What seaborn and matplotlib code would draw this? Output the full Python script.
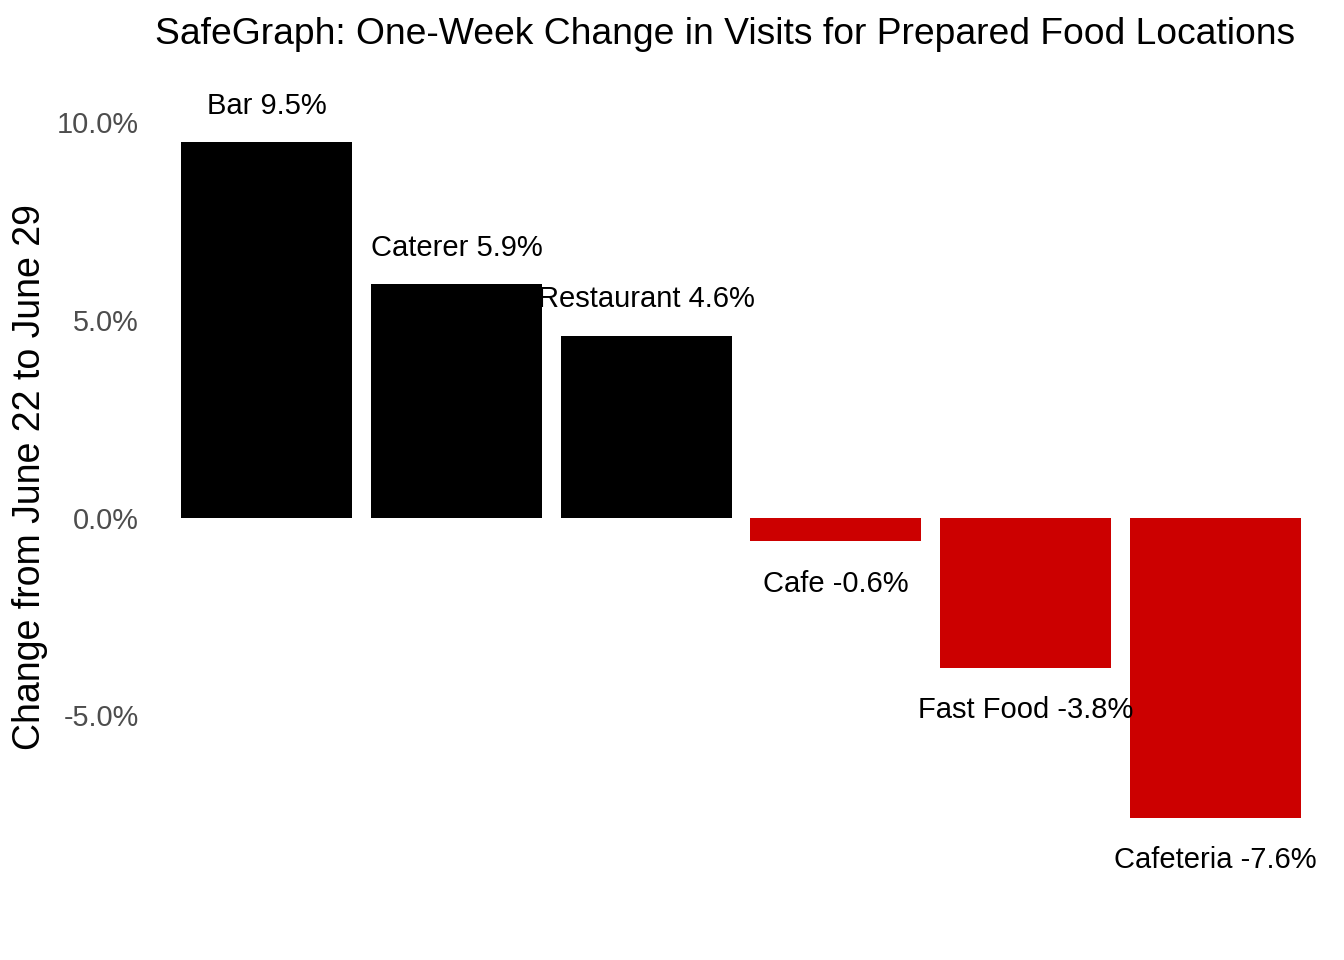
import matplotlib
matplotlib.use("Agg")
import matplotlib.pyplot as plt
import seaborn as sns
import pandas as pd
from matplotlib.ticker import FuncFormatter

categories = ["Bar", "Caterer", "Restaurant", "Cafe", "Fast Food", "Cafeteria"]
values = [9.5, 5.9, 4.6, -0.6, -3.8, -7.6]
yticks = [-5.0, 0.0, 5.0, 10.0]

df = pd.DataFrame({"cat": categories, "val": values})
df["dir"] = ["up" if v > 0 else "down" for v in values]

sns.set_theme(style="white")
plt.rcParams["font.family"] = ["Liberation Sans", "DejaVu Sans"]
plt.rcParams["text.color"] = "black"

fig = plt.figure(figsize=(13.44, 9.6), dpi=100)
ax = fig.add_axes([153 / 1344, 65 / 960, 1176 / 1344, 830 / 960])

sns.barplot(data=df, x="cat", y="val", hue="dir", order=categories,
            palette={"up": "#000000", "down": "#CC0000"}, width=0.9,
            dodge=False, legend=False, ax=ax, saturation=1, linewidth=0)

for i, (c, v) in enumerate(zip(categories, values)):
    ypos = v + 1 if v > 0 else v - 1
    ax.text(i, ypos, f"{c} {v:.1f}%", ha="center", va="center_baseline",
            fontsize=21, color="black")

ax.set_xlim(-0.6, 5.6)
ax.set_ylim(-9.555, 11.455)
ax.set_yticks(yticks)
ax.yaxis.set_major_formatter(FuncFormatter(lambda y, p: f"{y:.1f}%"))
ax.tick_params(axis="y", labelsize=20.8, labelcolor="#4D4D4D", length=0, pad=10)
ax.set_xticks([])
ax.set_xlabel("")
ax.set_ylabel("Change from June 22 to June 29", fontsize=27, color="black")
ax.yaxis.set_label_coords(30 / 1344, 0.503, transform=fig.transFigure)
ax.yaxis.label.set_va("center")
for s in ax.spines.values():
    s.set_visible(False)
ax.grid(False)

fig.text(725 / 1344, 1 - 31 / 960,
         "SafeGraph: One-Week Change in Visits for Prepared Food Locations",
         ha="center", va="center_baseline", fontsize=26.8, color="black")

fig.savefig("out.png", dpi=100, facecolor="white")
